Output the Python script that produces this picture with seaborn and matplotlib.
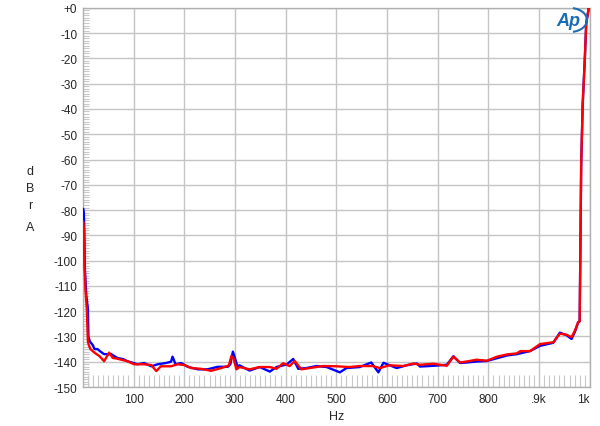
import numpy as np
import pandas as pd
import matplotlib
matplotlib.use("Agg")
import matplotlib.pyplot as plt
from matplotlib.patches import Arc
import seaborn as sns

# spectrum (Hz, dBrA)
blue_hz = [1, 2, 3, 4, 7, 10, 11, 14, 20, 23, 29, 35, 42, 56, 68, 80, 88, 100,
           108, 121, 135, 148, 164, 174, 177, 183, 194, 207, 227, 246, 266, 286,
           291, 296, 300, 306, 309, 329, 349, 369, 382, 402, 415, 425, 441, 461,
           481, 507, 520, 546, 569, 583, 593, 619, 639, 659, 665, 692, 718, 731,
           744, 757, 777, 797, 817, 837, 856, 882, 902, 928, 941, 954, 964, 971,
           977, 980, 981, 983, 986, 990, 993, 998]
blue_db = [-79.5, -81, -88, -103, -114, -119, -130, -132, -133.5, -135, -135,
           -136, -137, -137, -138.5, -139, -139.8, -140.5, -141, -140.5, -141.8,
           -141, -140.5, -140, -138, -141, -140.5, -142, -143, -143, -142, -142,
           -141, -136, -138.5, -142.5, -141.4, -143.5, -142.1, -143.9, -142.1,
           -141.1, -138.9, -142.8, -142.5, -141.7, -142.1, -144.2, -142.5,
           -142.1, -140.3, -144.2, -140.4, -142.5, -141.4, -140.7, -141.9,
           -141.6, -141.2, -137.8, -140.5, -140.3, -139.9, -139.7, -138.6,
           -137.5, -137, -135.8, -133.7, -132.5, -128.5, -129.5, -131, -128,
           -124.4, -124, -104, -62, -38, -21, -6, 0]

red_hz = [1, 2, 3.5, 5, 8, 10, 12, 15, 23, 33, 42, 52, 59, 68, 78, 88, 101, 121,
          135, 145, 154, 174, 187, 200, 214, 233, 253, 273, 288, 293, 297, 303,
          309, 329, 349, 369, 382, 395, 408, 418, 431, 447, 474, 500, 526, 546,
          572, 586, 605, 632, 652, 665, 692, 718, 731, 744, 757, 777, 797, 817,
          837, 856, 863, 882, 902, 928, 941, 954, 964, 971, 977, 980, 981, 983,
          986, 990, 993, 998]
red_db = [-84.5, -87, -102, -111, -119.5, -132, -133.5, -135, -136.4, -137.8,
          -139.8, -136.4, -138.5, -138.8, -139.3, -139.8, -141, -141, -141.3,
          -143.7, -141.8, -141.8, -141, -141.3, -142.5, -142.8, -143.6, -142.5,
          -141.5, -137.8, -138.5, -143, -142.1, -143, -142.1, -142.1, -142.8,
          -140.6, -141.7, -139.7, -143, -142.5, -141.7, -141.8, -142.1, -141.7,
          -141.7, -142.5, -141.4, -141.7, -140.7, -141.2, -140.8, -141.6, -138,
          -140.3, -139.9, -139.2, -139.6, -138, -137.1, -136.7, -135.8, -135.8,
          -133, -132.3, -128.9, -129.3, -130.3, -127.5, -124.4, -124, -104,
          -62, -38, -21, -6, 0]

x_ticks = [100, 200, 300, 400, 500, 600, 700, 800, 900, 1000]
x_labels = ['100', '200', '300', '400', '500', '600', '700', '800', '.9k', '1k']
y_ticks = list(range(-150, 1, 10))
y_labels = ['+0' if v == 0 else str(v) for v in y_ticks]

sns.set_style("white")
plt.rcParams['font.family'] = ['Liberation Sans', 'DejaVu Sans']

fig = plt.figure(figsize=(6, 4.27), dpi=100)
ax = fig.add_axes([0.138, 0.0913, 0.845, 0.888])

blue = pd.DataFrame({'Hz': blue_hz, 'dB': blue_db})
red = pd.DataFrame({'Hz': red_hz, 'dB': red_db})
sns.lineplot(data=blue, x='Hz', y='dB', color='#0000ff', lw=1.7, sort=False,
             estimator=None, ax=ax, zorder=3)
sns.lineplot(data=red, x='Hz', y='dB', color='#ff0000', lw=1.7, sort=False,
             estimator=None, ax=ax, zorder=4)

ax.set_xlim(0, 1000)
ax.set_ylim(-150, 0)
ax.set_xticks(x_ticks)
ax.set_xticklabels(x_labels, fontsize=8.5)
ax.get_xticklabels()[-1].set_ha('right')
ax.set_yticks(y_ticks)
ax.set_yticklabels(y_labels, fontsize=8.5)
ax.set_xticks(np.arange(10, 1000, 10), minor=True)
ax.set_yticks(np.arange(-150, 0, 1), minor=True)
ax.tick_params(which='both', bottom=True, left=True)
ax.tick_params(which='major', length=0, pad=4)
ax.tick_params(axis='x', which='minor', direction='in', length=9,
               color='#c8c8c8', width=0.8)
ax.tick_params(axis='y', which='minor', direction='in', length=4.5,
               color='#c8c8c8', width=0.8)
ax.grid(which='major', color='#c4c4c4', lw=1.0)
for s in ax.spines.values():
    s.set_color('#b0b0b0')
    s.set_linewidth(1.0)

ax.set_xlabel('Hz', fontsize=9)
ax.set_ylabel('')
for letter, yy in zip(['d', 'B', 'r', 'A'], [172, 189, 206, 228]):
    fig.text(30 / 600, 1 - yy / 427, letter, fontsize=9, ha='center', va='center')

# Ap logo
fig.text(568 / 600, 1 - 21 / 427, 'Ap', fontsize=13, color='#1a6db3',
         style='italic', weight='bold', ha='center', va='center')
logo_arc = Arc((570 / 600, 1 - 21 / 427), 34 / 600, 24 / 427, angle=0,
               theta1=-80, theta2=80, transform=fig.transFigure,
               color='#1a6db3', lw=1.5)
fig.add_artist(logo_arc)

fig.savefig('out.png', dpi=100)
